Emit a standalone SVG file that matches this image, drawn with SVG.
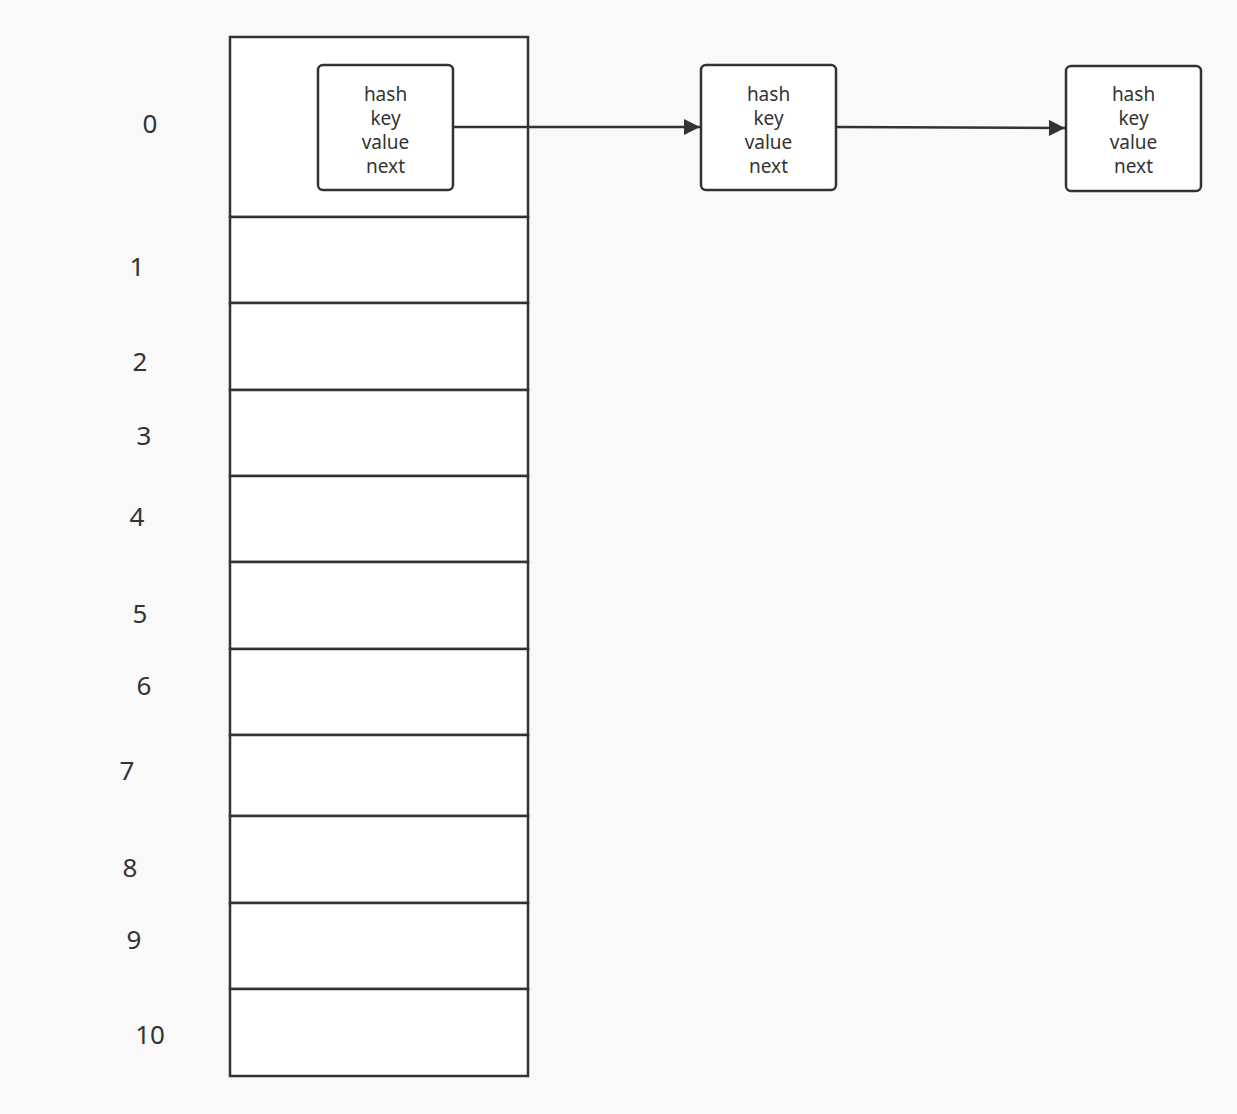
<svg xmlns="http://www.w3.org/2000/svg" width="1237" height="1114" viewBox="0 0 1237 1114">
<defs>
<style>
.b{fill:#fff;stroke:#333;stroke-width:2.5}
.n{fill:#fff;stroke:#333;stroke-width:2.5}
.t{font-family:"Noto Sans","Liberation Sans",sans-serif;font-size:19px;fill:#333;text-anchor:middle}
.i{font-family:"Noto Sans","Liberation Sans",sans-serif;font-size:26px;fill:#333;text-anchor:middle}
.c{stroke:#333;stroke-width:2.5;fill:none}
</style>
<marker id="a" viewBox="0 0 10 10" refX="10" refY="5" markerWidth="9" markerHeight="7" markerUnits="userSpaceOnUse" orient="auto"><path d="M0,0L10,5L0,10z" fill="#333"/></marker>
<marker id="m" viewBox="0 0 10 10" refX="10" refY="5" markerWidth="24" markerHeight="16" markerUnits="userSpaceOnUse" orient="auto"><path d="M0,0L10,5L0,10z" fill="#333"/></marker>
</defs>
<rect width="1237" height="1114" fill="#f9f9f9"/>
<g id="array">
<rect class="b" x="230" y="37" width="298" height="180"/>
<rect class="b" x="230" y="217" width="298" height="86"/>
<rect class="b" x="230" y="303" width="298" height="87"/>
<rect class="b" x="230" y="390" width="298" height="86"/>
<rect class="b" x="230" y="476" width="298" height="86"/>
<rect class="b" x="230" y="562" width="298" height="87"/>
<rect class="b" x="230" y="649" width="298" height="86"/>
<rect class="b" x="230" y="735" width="298" height="81"/>
<rect class="b" x="230" y="816" width="298" height="87"/>
<rect class="b" x="230" y="903" width="298" height="86"/>
<rect class="b" x="230" y="989" width="298" height="87"/>
</g>
<g id="indices">
<text class="i" x="150" y="133">0</text>
<text class="i" x="137" y="276">1</text>
<text class="i" x="140" y="371">2</text>
<text class="i" x="144" y="445">3</text>
<text class="i" x="137" y="526">4</text>
<text class="i" x="140" y="623">5</text>
<text class="i" x="144" y="695">6</text>
<text class="i" x="127" y="780">7</text>
<text class="i" x="130" y="877">8</text>
<text class="i" x="134" y="949">9</text>
<text class="i" x="150" y="1044">10</text>
</g>
<g id="node1">
<rect class="n" x="318" y="65" width="135" height="125" rx="5"/>
<text class="t" x="385.5" y="101">hash</text><text class="t" x="385.5" y="125">key</text><text class="t" x="385.5" y="149">value</text><text class="t" x="385.5" y="173">next</text>
</g>
<g id="node2">
<rect class="n" x="701" y="65" width="135" height="125" rx="5"/>
<text class="t" x="768.5" y="101">hash</text><text class="t" x="768.5" y="125">key</text><text class="t" x="768.5" y="149">value</text><text class="t" x="768.5" y="173">next</text>
</g>
<g id="node3">
<rect class="n" x="1066" y="66" width="135" height="125" rx="5"/>
<text class="t" x="1133.5" y="101">hash</text><text class="t" x="1133.5" y="125">key</text><text class="t" x="1133.5" y="149">value</text><text class="t" x="1133.5" y="173">next</text>
</g>
<g id="connectors">
<path class="c" d="M453,127L700,127" marker-end="url(#m)"/>
<path class="c" d="M836,127L1065,128" marker-end="url(#m)"/>
</g>
</svg>
